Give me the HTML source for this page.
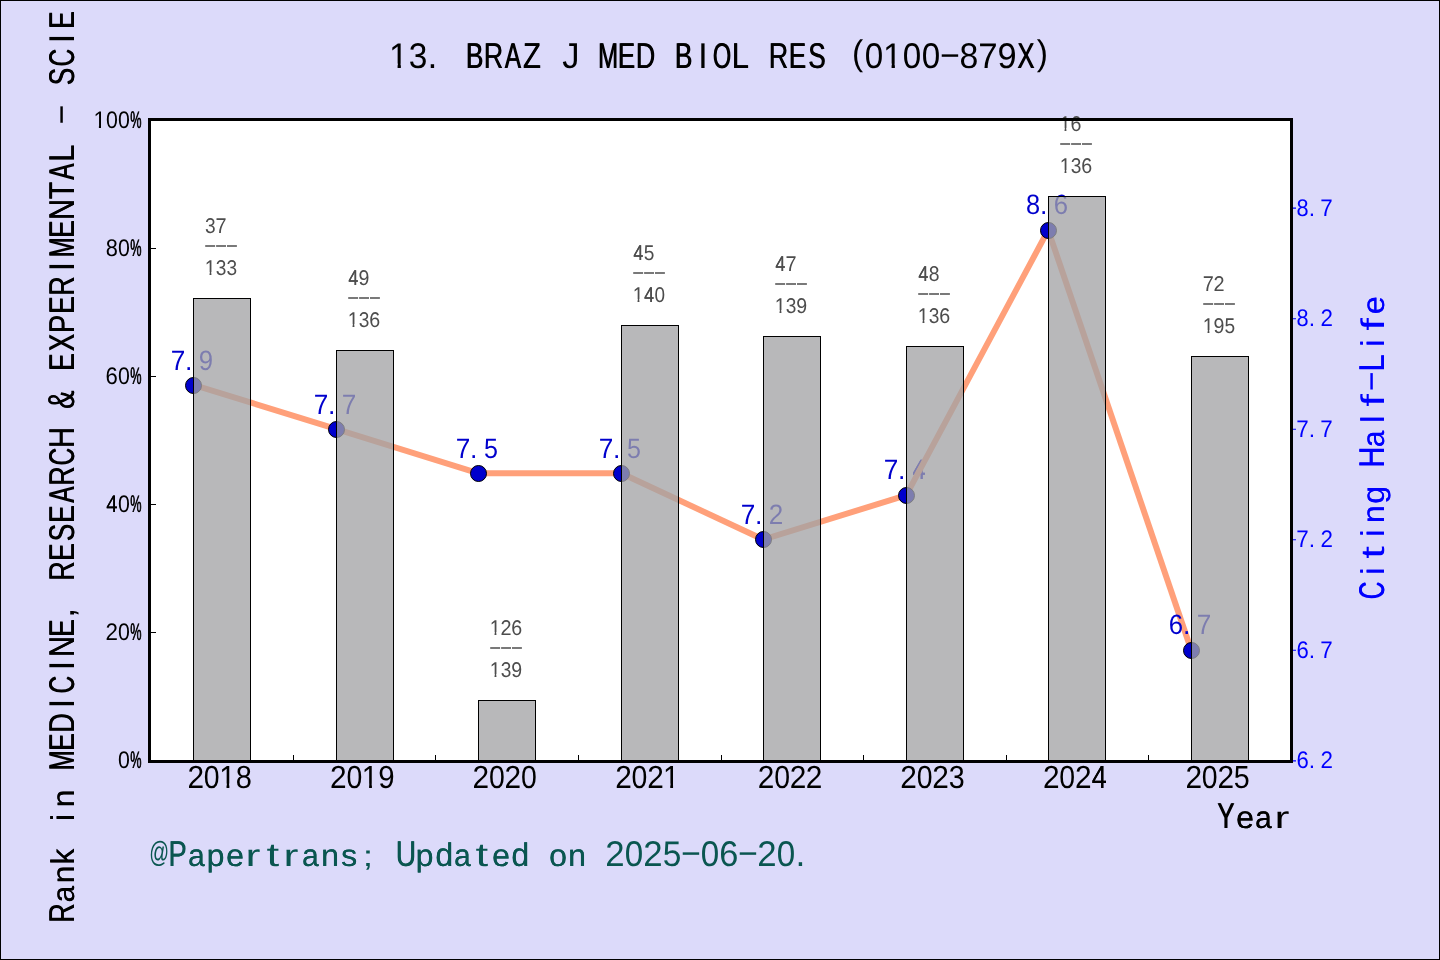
<!DOCTYPE html>
<html lang="en"><head><meta charset="utf-8"><title>BRAZ J MED BIOL RES</title>
<style>html,body{margin:0;padding:0;background:#DCDAFA;}body{width:1440px;height:960px;overflow:hidden;font-family:"Liberation Sans",sans-serif;}svg{display:block;will-change:transform;}</style></head>
<body>
<svg width="1440" height="960" viewBox="0 0 1440 960" font-family="'Liberation Sans', sans-serif" text-rendering="geometricPrecision">
<defs><clipPath id="one" clipPathUnits="objectBoundingBox"><rect x="0" y="0" width="1" height="0.69"/><rect x="0.445" y="0" width="0.172" height="1"/></clipPath></defs>
<rect x="0" y="0" width="1440" height="960" fill="#DCDAFA"/>
<rect x="0.5" y="0.5" width="1439" height="959" fill="none" stroke="#000" stroke-width="1"/>
<rect x="149.5" y="119.5" width="1142.0" height="642.0" fill="#fff"/>
<g id="v0" font-size="28" fill="#0000CD">
<text transform="translate(178 369.9) scale(0.935 1)" x="-7.8">7</text>
<text transform="translate(188.79 369.9) scale(0.95 0.95)" x="-3.89">.</text>
<text transform="translate(206 369.9) scale(0.92 1)" x="-7.78">9</text>
</g>
<path d="M193.2 384.8L336.2 429" fill="none" stroke="#FFA07A" stroke-width="6" stroke-linecap="square"/>
<g id="v1" font-size="28" fill="#0000CD">
<text transform="translate(321 413.75) scale(0.935 1)" x="-7.8">7</text>
<text transform="translate(331.79 413.75) scale(0.95 0.95)" x="-3.89">.</text>
<text transform="translate(349 413.75) scale(0.935 1)" x="-7.8">7</text>
</g>
<path d="M336.2 429L478.2 473.2" fill="none" stroke="#FFA07A" stroke-width="6" stroke-linecap="square"/>
<g id="v2" font-size="28" fill="#0000CD">
<text transform="translate(463 458.1) scale(0.935 1)" x="-7.8">7</text>
<text transform="translate(473.79 458.1) scale(0.95 0.95)" x="-3.89">.</text>
<text transform="translate(491 458.1) scale(0.896 1)" x="-7.76">5</text>
</g>
<path d="M478.2 473.2L621.2 473.2" fill="none" stroke="#FFA07A" stroke-width="6" stroke-linecap="square"/>
<g id="v3" font-size="28" fill="#0000CD">
<text transform="translate(606 457.7) scale(0.935 1)" x="-7.8">7</text>
<text transform="translate(616.79 457.7) scale(0.95 0.95)" x="-3.89">.</text>
<text transform="translate(634 457.7) scale(0.896 1)" x="-7.76">5</text>
</g>
<path d="M621.2 473.2L763.2 539.5" fill="none" stroke="#FFA07A" stroke-width="6" stroke-linecap="square"/>
<g id="v4" font-size="28" fill="#0000CD">
<text transform="translate(748 523.5) scale(0.935 1)" x="-7.8">7</text>
<text transform="translate(758.79 523.5) scale(0.95 0.95)" x="-3.89">.</text>
<text transform="translate(776 523.5) scale(0.933 1)" x="-7.79">2</text>
</g>
<path d="M763.2 539.5L906.2 495.3" fill="none" stroke="#FFA07A" stroke-width="6" stroke-linecap="square"/>
<g id="v5" font-size="28" fill="#0000CD">
<text transform="translate(891 479.4) scale(0.935 1)" x="-7.8">7</text>
<text transform="translate(901.79 479.4) scale(0.95 0.95)" x="-3.89">.</text>
<text id="g1" transform="translate(918.91 479.4) scale(0.843 1)" x="-7.7">4</text>
<use href="#g1" x="0.18"/>
</g>
<path d="M906.2 495.3L1048.2 230.1" fill="none" stroke="#FFA07A" stroke-width="6" stroke-linecap="square"/>
<g id="v6" font-size="28" fill="#0000CD">
<text transform="translate(1033 214.4) scale(0.906 1)" x="-7.79">8</text>
<text transform="translate(1043.79 214.4) scale(0.95 0.95)" x="-3.89">.</text>
<text transform="translate(1061 214.4) scale(0.921 1)" x="-7.88">6</text>
</g>
<path d="M1048.2 230.1L1191.2 650" fill="none" stroke="#FFA07A" stroke-width="6" stroke-linecap="square"/>
<g id="v7" font-size="28" fill="#0000CD">
<text transform="translate(1176 634.1) scale(0.921 1)" x="-7.88">6</text>
<text transform="translate(1186.79 634.1) scale(0.95 0.95)" x="-3.89">.</text>
<text transform="translate(1204 634.1) scale(0.935 1)" x="-7.8">7</text>
</g>
<circle cx="193.5" cy="385.5" r="8" fill="#0000CD" stroke="#000" stroke-width="1"/>
<circle cx="336.5" cy="429.5" r="8" fill="#0000CD" stroke="#000" stroke-width="1"/>
<circle cx="478.5" cy="473.5" r="8" fill="#0000CD" stroke="#000" stroke-width="1"/>
<circle cx="621.5" cy="473.5" r="8" fill="#0000CD" stroke="#000" stroke-width="1"/>
<circle cx="763.5" cy="539.5" r="8" fill="#0000CD" stroke="#000" stroke-width="1"/>
<circle cx="906.5" cy="495.5" r="8" fill="#0000CD" stroke="#000" stroke-width="1"/>
<circle cx="1048.5" cy="230.5" r="8" fill="#0000CD" stroke="#000" stroke-width="1"/>
<circle cx="1191.5" cy="650.5" r="8" fill="#0000CD" stroke="#000" stroke-width="1"/>
<rect x="193.5" y="298.5" width="57" height="463" fill="#A2A3A5" fill-opacity="0.77" stroke="#000" stroke-width="1"/>
<rect x="336.5" y="350.5" width="57" height="411" fill="#A2A3A5" fill-opacity="0.77" stroke="#000" stroke-width="1"/>
<rect x="478.5" y="700.5" width="57" height="61" fill="#A2A3A5" fill-opacity="0.77" stroke="#000" stroke-width="1"/>
<rect x="621.5" y="325.5" width="57" height="436" fill="#A2A3A5" fill-opacity="0.77" stroke="#000" stroke-width="1"/>
<rect x="763.5" y="336.5" width="57" height="425" fill="#A2A3A5" fill-opacity="0.77" stroke="#000" stroke-width="1"/>
<rect x="906.5" y="346.5" width="57" height="415" fill="#A2A3A5" fill-opacity="0.77" stroke="#000" stroke-width="1"/>
<rect x="1048.5" y="196.5" width="57" height="565" fill="#A2A3A5" fill-opacity="0.77" stroke="#000" stroke-width="1"/>
<rect x="1191.5" y="356.5" width="57" height="405" fill="#A2A3A5" fill-opacity="0.77" stroke="#000" stroke-width="1"/>
<g id="fa0" font-size="21.33" fill="#4d4d4d">
<text transform="translate(210.34 232.5) scale(0.896 1)" x="-5.87">3</text>
<text transform="translate(221 232.5) scale(0.935 1)" x="-5.94">7</text>
</g>
<path d="M205.2 245.9h9.9m1 0h9.9m1 0h9.9" stroke="#4d4d4d" stroke-width="1.5" fill="none"/>
<g id="fb0" font-size="21.33" fill="#4d4d4d">
<text transform="translate(208.95 274.5) scale(0.92 1)" x="-4.65" clip-path="url(#one)">1</text>
<text transform="translate(221 274.5) scale(0.896 1)" x="-5.87">3</text>
<text transform="translate(231.68 274.5) scale(0.896 1)" x="-5.87">3</text>
</g>
<g id="fa1" font-size="21.33" fill="#4d4d4d">
<text id="g2" transform="translate(353.27 284.5) scale(0.843 1)" x="-5.86">4</text>
<use href="#g2" x="0.14"/>
<text transform="translate(364 284.5) scale(0.92 1)" x="-5.93">9</text>
</g>
<path d="M348.2 297.9h9.9m1 0h9.9m1 0h9.9" stroke="#4d4d4d" stroke-width="1.5" fill="none"/>
<g id="fb1" font-size="21.33" fill="#4d4d4d">
<text transform="translate(351.95 326.5) scale(0.92 1)" x="-4.65" clip-path="url(#one)">1</text>
<text transform="translate(364 326.5) scale(0.896 1)" x="-5.87">3</text>
<text transform="translate(374.67 326.5) scale(0.921 1)" x="-6">6</text>
</g>
<g id="fa2" font-size="21.33" fill="#4d4d4d">
<text transform="translate(493.95 634.5) scale(0.92 1)" x="-4.65" clip-path="url(#one)">1</text>
<text transform="translate(506 634.5) scale(0.933 1)" x="-5.93">2</text>
<text transform="translate(516.67 634.5) scale(0.921 1)" x="-6">6</text>
</g>
<path d="M490.2 647.9h9.9m1 0h9.9m1 0h9.9" stroke="#4d4d4d" stroke-width="1.5" fill="none"/>
<g id="fb2" font-size="21.33" fill="#4d4d4d">
<text transform="translate(493.95 676.5) scale(0.92 1)" x="-4.65" clip-path="url(#one)">1</text>
<text transform="translate(506 676.5) scale(0.896 1)" x="-5.87">3</text>
<text transform="translate(516.67 676.5) scale(0.92 1)" x="-5.93">9</text>
</g>
<g id="fa3" font-size="21.33" fill="#4d4d4d">
<text id="g3" transform="translate(638.27 259.5) scale(0.843 1)" x="-5.86">4</text>
<use href="#g3" x="0.14"/>
<text transform="translate(649 259.5) scale(0.896 1)" x="-5.91">5</text>
</g>
<path d="M633.2 272.9h9.9m1 0h9.9m1 0h9.9" stroke="#4d4d4d" stroke-width="1.5" fill="none"/>
<g id="fb3" font-size="21.33" fill="#4d4d4d">
<text transform="translate(636.95 301.5) scale(0.92 1)" x="-4.65" clip-path="url(#one)">1</text>
<text id="g4" transform="translate(648.94 301.5) scale(0.843 1)" x="-5.86">4</text>
<use href="#g4" x="0.14"/>
<text transform="translate(659.68 301.5) scale(0.889 1)" x="-5.93">0</text>
</g>
<g id="fa4" font-size="21.33" fill="#4d4d4d">
<text id="g5" transform="translate(780.27 270.5) scale(0.843 1)" x="-5.86">4</text>
<use href="#g5" x="0.14"/>
<text transform="translate(791 270.5) scale(0.935 1)" x="-5.94">7</text>
</g>
<path d="M775.2 283.9h9.9m1 0h9.9m1 0h9.9" stroke="#4d4d4d" stroke-width="1.5" fill="none"/>
<g id="fb4" font-size="21.33" fill="#4d4d4d">
<text transform="translate(778.95 312.5) scale(0.92 1)" x="-4.65" clip-path="url(#one)">1</text>
<text transform="translate(791 312.5) scale(0.896 1)" x="-5.87">3</text>
<text transform="translate(801.68 312.5) scale(0.92 1)" x="-5.93">9</text>
</g>
<g id="fa5" font-size="21.33" fill="#4d4d4d">
<text id="g6" transform="translate(923.27 280.5) scale(0.843 1)" x="-5.86">4</text>
<use href="#g6" x="0.14"/>
<text transform="translate(934 280.5) scale(0.906 1)" x="-5.93">8</text>
</g>
<path d="M918.2 293.9h9.9m1 0h9.9m1 0h9.9" stroke="#4d4d4d" stroke-width="1.5" fill="none"/>
<g id="fb5" font-size="21.33" fill="#4d4d4d">
<text transform="translate(921.95 322.5) scale(0.92 1)" x="-4.65" clip-path="url(#one)">1</text>
<text transform="translate(934 322.5) scale(0.896 1)" x="-5.87">3</text>
<text transform="translate(944.68 322.5) scale(0.921 1)" x="-6">6</text>
</g>
<g id="fa6" font-size="21.33" fill="#4d4d4d">
<text transform="translate(1063.95 130.5) scale(0.92 1)" x="-4.65" clip-path="url(#one)">1</text>
<text transform="translate(1076.01 130.5) scale(0.921 1)" x="-6">6</text>
</g>
<path d="M1060.2 143.9h9.9m1 0h9.9m1 0h9.9" stroke="#4d4d4d" stroke-width="1.5" fill="none"/>
<g id="fb6" font-size="21.33" fill="#4d4d4d">
<text transform="translate(1063.95 172.5) scale(0.92 1)" x="-4.65" clip-path="url(#one)">1</text>
<text transform="translate(1076.01 172.5) scale(0.896 1)" x="-5.87">3</text>
<text transform="translate(1086.67 172.5) scale(0.921 1)" x="-6">6</text>
</g>
<g id="fa7" font-size="21.33" fill="#4d4d4d">
<text transform="translate(1208.34 290.5) scale(0.935 1)" x="-5.94">7</text>
<text transform="translate(1219.01 290.5) scale(0.933 1)" x="-5.93">2</text>
</g>
<path d="M1203.2 303.9h9.9m1 0h9.9m1 0h9.9" stroke="#4d4d4d" stroke-width="1.5" fill="none"/>
<g id="fb7" font-size="21.33" fill="#4d4d4d">
<text transform="translate(1206.95 332.5) scale(0.92 1)" x="-4.65" clip-path="url(#one)">1</text>
<text transform="translate(1219.01 332.5) scale(0.92 1)" x="-5.93">9</text>
<text transform="translate(1229.67 332.5) scale(0.896 1)" x="-5.91">5</text>
</g>
<rect x="149.5" y="119.5" width="1142.0" height="642.0" fill="none" stroke="#000" stroke-width="3"/>
<path d="M151 632.5H156M151 504.5H156M151 376.5H156M151 248.5H156M293.5 760V755M435.5 760V755M578.5 760V755M721.5 760V755M863.5 760V755M1006.5 760V755M1148.5 760V755" stroke="#000" stroke-width="1" fill="none"/>
<path d="M1293 760.8H1296M1293 650.27H1296M1293 539.75H1296M1293 429.22H1296M1293 318.7H1296M1293 208.18H1296" stroke="#0000FF" stroke-width="1.15" fill="none"/>
<g id="yl0" font-size="24" fill="#000">
<text transform="translate(123.8 767.9) scale(0.889 1)" x="-6.67">0</text>
<text id="g7" transform="translate(135.56 767.9) scale(0.526 1)" x="-10.67">%</text>
<use href="#g7" x="0.48"/>
</g>
<g id="yl1" font-size="24" fill="#000">
<text transform="translate(111.8 639.9) scale(0.933 1)" x="-6.67">2</text>
<text transform="translate(123.8 639.9) scale(0.889 1)" x="-6.67">0</text>
<text id="g8" transform="translate(135.56 639.9) scale(0.526 1)" x="-10.67">%</text>
<use href="#g8" x="0.48"/>
</g>
<g id="yl2" font-size="24" fill="#000">
<text id="g9" transform="translate(111.72 511.9) scale(0.843 1)" x="-6.6">4</text>
<use href="#g9" x="0.15"/>
<text transform="translate(123.8 511.9) scale(0.889 1)" x="-6.67">0</text>
<text id="g10" transform="translate(135.56 511.9) scale(0.526 1)" x="-10.67">%</text>
<use href="#g10" x="0.48"/>
</g>
<g id="yl3" font-size="24" fill="#000">
<text transform="translate(111.8 383.9) scale(0.921 1)" x="-6.76">6</text>
<text transform="translate(123.8 383.9) scale(0.889 1)" x="-6.67">0</text>
<text id="g11" transform="translate(135.56 383.9) scale(0.526 1)" x="-10.67">%</text>
<use href="#g11" x="0.48"/>
</g>
<g id="yl4" font-size="24" fill="#000">
<text transform="translate(111.8 255.9) scale(0.906 1)" x="-6.67">8</text>
<text transform="translate(123.8 255.9) scale(0.889 1)" x="-6.67">0</text>
<text id="g12" transform="translate(135.56 255.9) scale(0.526 1)" x="-10.67">%</text>
<use href="#g12" x="0.48"/>
</g>
<g id="yl5" font-size="24" fill="#000">
<text transform="translate(98.24 127.9) scale(0.92 1)" x="-5.23" clip-path="url(#one)">1</text>
<text transform="translate(111.8 127.9) scale(0.889 1)" x="-6.67">0</text>
<text transform="translate(123.8 127.9) scale(0.889 1)" x="-6.67">0</text>
<text id="g13" transform="translate(135.56 127.9) scale(0.526 1)" x="-10.67">%</text>
<use href="#g13" x="0.48"/>
</g>
<g id="yr0" font-size="24" fill="#0000FF">
<text transform="translate(1302.6 767.9) scale(0.921 1)" x="-6.76">6</text>
<text transform="translate(1311.85 767.9) scale(0.95 0.95)" x="-3.33">.</text>
<text transform="translate(1326.6 767.9) scale(0.933 1)" x="-6.67">2</text>
</g>
<g id="yr1" font-size="24" fill="#0000FF">
<text transform="translate(1302.6 657.98) scale(0.921 1)" x="-6.76">6</text>
<text transform="translate(1311.85 657.98) scale(0.95 0.95)" x="-3.33">.</text>
<text transform="translate(1326.6 657.98) scale(0.935 1)" x="-6.69">7</text>
</g>
<g id="yr2" font-size="24" fill="#0000FF">
<text transform="translate(1302.6 547.45) scale(0.935 1)" x="-6.69">7</text>
<text transform="translate(1311.85 547.45) scale(0.95 0.95)" x="-3.33">.</text>
<text transform="translate(1326.6 547.45) scale(0.933 1)" x="-6.67">2</text>
</g>
<g id="yr3" font-size="24" fill="#0000FF">
<text transform="translate(1302.6 436.92) scale(0.935 1)" x="-6.69">7</text>
<text transform="translate(1311.85 436.92) scale(0.95 0.95)" x="-3.33">.</text>
<text transform="translate(1326.6 436.92) scale(0.935 1)" x="-6.69">7</text>
</g>
<g id="yr4" font-size="24" fill="#0000FF">
<text transform="translate(1302.6 326.4) scale(0.906 1)" x="-6.67">8</text>
<text transform="translate(1311.85 326.4) scale(0.95 0.95)" x="-3.33">.</text>
<text transform="translate(1326.6 326.4) scale(0.933 1)" x="-6.67">2</text>
</g>
<g id="yr5" font-size="24" fill="#0000FF">
<text transform="translate(1302.6 215.88) scale(0.906 1)" x="-6.67">8</text>
<text transform="translate(1311.85 215.88) scale(0.95 0.95)" x="-3.33">.</text>
<text transform="translate(1326.6 215.88) scale(0.935 1)" x="-6.69">7</text>
</g>
<g id="xl0" font-size="32" fill="#000">
<text transform="translate(195.75 787.7) scale(0.933 1)" x="-8.9">2</text>
<text transform="translate(211.75 787.7) scale(0.889 1)" x="-8.9">0</text>
<text transform="translate(225.67 787.7) scale(0.92 1)" x="-6.98" clip-path="url(#one)">1</text>
<text transform="translate(243.75 787.7) scale(0.906 1)" x="-8.9">8</text>
</g>
<g id="xl1" font-size="32" fill="#000">
<text transform="translate(338.32 787.7) scale(0.933 1)" x="-8.9">2</text>
<text transform="translate(354.32 787.7) scale(0.889 1)" x="-8.9">0</text>
<text transform="translate(368.24 787.7) scale(0.92 1)" x="-6.98" clip-path="url(#one)">1</text>
<text transform="translate(386.32 787.7) scale(0.92 1)" x="-8.89">9</text>
</g>
<g id="xl2" font-size="32" fill="#000">
<text transform="translate(480.89 787.7) scale(0.933 1)" x="-8.9">2</text>
<text transform="translate(496.89 787.7) scale(0.889 1)" x="-8.9">0</text>
<text transform="translate(512.89 787.7) scale(0.933 1)" x="-8.9">2</text>
<text transform="translate(528.89 787.7) scale(0.889 1)" x="-8.9">0</text>
</g>
<g id="xl3" font-size="32" fill="#000">
<text transform="translate(623.46 787.7) scale(0.933 1)" x="-8.9">2</text>
<text transform="translate(639.46 787.7) scale(0.889 1)" x="-8.9">0</text>
<text transform="translate(655.46 787.7) scale(0.933 1)" x="-8.9">2</text>
<text transform="translate(669.38 787.7) scale(0.92 1)" x="-6.98" clip-path="url(#one)">1</text>
</g>
<g id="xl4" font-size="32" fill="#000">
<text transform="translate(766.04 787.7) scale(0.933 1)" x="-8.9">2</text>
<text transform="translate(782.04 787.7) scale(0.889 1)" x="-8.9">0</text>
<text transform="translate(798.04 787.7) scale(0.933 1)" x="-8.9">2</text>
<text transform="translate(814.04 787.7) scale(0.933 1)" x="-8.9">2</text>
</g>
<g id="xl5" font-size="32" fill="#000">
<text transform="translate(908.61 787.7) scale(0.933 1)" x="-8.9">2</text>
<text transform="translate(924.61 787.7) scale(0.889 1)" x="-8.9">0</text>
<text transform="translate(940.61 787.7) scale(0.933 1)" x="-8.9">2</text>
<text transform="translate(956.61 787.7) scale(0.896 1)" x="-8.8">3</text>
</g>
<g id="xl6" font-size="32" fill="#000">
<text transform="translate(1051.18 787.7) scale(0.933 1)" x="-8.9">2</text>
<text transform="translate(1067.18 787.7) scale(0.889 1)" x="-8.9">0</text>
<text transform="translate(1083.18 787.7) scale(0.933 1)" x="-8.9">2</text>
<text id="g14" transform="translate(1099.08 787.7) scale(0.843 1)" x="-8.8">4</text>
<use href="#g14" x="0.2"/>
</g>
<g id="xl7" font-size="32" fill="#000">
<text transform="translate(1193.75 787.7) scale(0.933 1)" x="-8.9">2</text>
<text transform="translate(1209.75 787.7) scale(0.889 1)" x="-8.9">0</text>
<text transform="translate(1225.75 787.7) scale(0.933 1)" x="-8.9">2</text>
<text transform="translate(1241.75 787.7) scale(0.896 1)" x="-8.87">5</text>
</g>
<g id="xlab" font-size="37.33" fill="#000">
<text id="g15" transform="translate(1225.68 828.1) scale(0.69 0.96)" x="-12.45">Y</text>
<use href="#g15" x="0.64"/>
<text id="g16" transform="translate(1244.9 828.1) scale(0.86 0.83)" x="-10.34">e</text>
<use href="#g16" x="0.19"/>
<text id="g17" transform="translate(1263.82 828.1) scale(0.8 0.83)" x="-11.17">a</text>
<use href="#g17" x="0.35"/>
<text transform="translate(1283 828.1) scale(1.2 0.83)" x="-7.15">r</text>
</g>
<g id="title" font-size="37.33" fill="#000">
<text transform="translate(396.57 68.4) scale(0.92 0.955)" x="-8.14" clip-path="url(#one)">1</text>
<text transform="translate(418 68.4) scale(0.896 0.955)" x="-10.27">3</text>
<text transform="translate(432.55 68.4) scale(0.95 0.95)" x="-5.19">.</text>
<text id="g18" transform="translate(474.7 68.4) scale(0.705 0.96)" x="-13">B</text>
<use href="#g18" x="0.61"/>
<text id="g19" transform="translate(493.72 68.4) scale(0.724 0.96)" x="-14.14">R</text>
<use href="#g19" x="0.55"/>
<text id="g20" transform="translate(512.63 68.4) scale(0.648 0.96)" x="-12.45">A</text>
<use href="#g20" x="0.75"/>
<text id="g21" transform="translate(531.8 68.4) scale(0.785 0.96)" x="-11.41">Z</text>
<use href="#g21" x="0.39"/>
<text transform="translate(570 68.4) scale(0.926 0.96)" x="-8.24">J</text>
<text id="g22" transform="translate(607.63 68.4) scale(0.643 0.96)" x="-15.55">M</text>
<use href="#g22" x="0.75"/>
<text id="g23" transform="translate(626.68 68.4) scale(0.692 0.96)" x="-13.18">E</text>
<use href="#g23" x="0.64"/>
<text id="g24" transform="translate(645.73 68.4) scale(0.726 0.96)" x="-14.12">D</text>
<use href="#g24" x="0.55"/>
<text id="g25" transform="translate(683.7 68.4) scale(0.705 0.96)" x="-13">B</text>
<use href="#g25" x="0.61"/>
<text transform="translate(703 68.4) scale(0.95 0.96)" x="-5.19">I</text>
<text id="g26" transform="translate(721.63 68.4) scale(0.63 0.96)" x="-14.51">O</text>
<use href="#g26" x="0.75"/>
<text id="g27" transform="translate(740.88 68.4) scale(0.839 0.96)" x="-11.29">L</text>
<use href="#g27" x="0.25"/>
<text id="g28" transform="translate(778.72 68.4) scale(0.724 0.96)" x="-14.14">R</text>
<use href="#g28" x="0.55"/>
<text id="g29" transform="translate(797.68 68.4) scale(0.692 0.96)" x="-13.18">E</text>
<use href="#g29" x="0.64"/>
<text id="g30" transform="translate(816.68 68.4) scale(0.695 0.96)" x="-12.44">S</text>
<use href="#g30" x="0.63"/>
<text transform="translate(858.55 64.67) scale(0.9 0.95)" x="-7.26">(</text>
<text transform="translate(874 68.4) scale(0.889 0.955)" x="-10.38">0</text>
<text transform="translate(890.57 68.4) scale(0.92 0.955)" x="-8.14" clip-path="url(#one)">1</text>
<text transform="translate(912 68.4) scale(0.889 0.955)" x="-10.38">0</text>
<text transform="translate(931 68.4) scale(0.889 0.955)" x="-10.38">0</text>
<text transform="translate(950 64.29) scale(1.802 0.85)" x="-6.22">-</text>
<text transform="translate(969 68.4) scale(0.906 0.955)" x="-10.38">8</text>
<text transform="translate(988 68.4) scale(0.935 0.955)" x="-10.4">7</text>
<text transform="translate(1007 68.4) scale(0.92 0.955)" x="-10.37">9</text>
<text id="g31" transform="translate(1025.68 68.4) scale(0.69 0.96)" x="-12.48">X</text>
<use href="#g31" x="0.65"/>
<text transform="translate(1041.45 64.67) scale(0.9 0.95)" x="-5.17">)</text>
</g>
<g id="foot" font-size="37.33" fill="#0A5650">
<text transform="translate(159 862.44) scale(0.523 0.79)" x="-18.8">@</text>
<text id="g32" transform="translate(177.73 865.8) scale(0.733 0.96)" x="-13">P</text>
<use href="#g32" x="0.53"/>
<text id="g33" transform="translate(196.82 865.8) scale(0.8 0.83)" x="-11.17">a</text>
<use href="#g33" x="0.35"/>
<text id="g34" transform="translate(215.9 865.8) scale(0.86 0.83)" x="-10.8">p</text>
<use href="#g34" x="0.19"/>
<text id="g35" transform="translate(234.9 865.8) scale(0.86 0.83)" x="-10.34">e</text>
<use href="#g35" x="0.19"/>
<text transform="translate(254 865.8) scale(1.2 0.83)" x="-7.15">r</text>
<text transform="translate(273 865.8) scale(1.22 0.88)" x="-5.33">t</text>
<text transform="translate(292 865.8) scale(1.2 0.83)" x="-7.15">r</text>
<text id="g36" transform="translate(310.82 865.8) scale(0.8 0.83)" x="-11.17">a</text>
<use href="#g36" x="0.35"/>
<text id="g37" transform="translate(329.9 865.8) scale(0.86 0.83)" x="-10.41">n</text>
<use href="#g37" x="0.19"/>
<text id="g38" transform="translate(348.9 865.8) scale(0.86 0.83)" x="-9.18">s</text>
<use href="#g38" x="0.19"/>
<text transform="translate(368 865.8) scale(1 0.78)" x="-5.19">;</text>
<text id="g39" transform="translate(405.77 865.8) scale(0.757 0.96)" x="-13.48">U</text>
<use href="#g39" x="0.47"/>
<text id="g40" transform="translate(424.9 865.8) scale(0.86 0.83)" x="-10.8">p</text>
<use href="#g40" x="0.19"/>
<text id="g41" transform="translate(443.9 865.8) scale(0.86 0.88)" x="-9.96">d</text>
<use href="#g41" x="0.19"/>
<text id="g42" transform="translate(462.82 865.8) scale(0.8 0.83)" x="-11.17">a</text>
<use href="#g42" x="0.35"/>
<text transform="translate(482 865.8) scale(1.22 0.88)" x="-5.33">t</text>
<text id="g43" transform="translate(500.9 865.8) scale(0.86 0.83)" x="-10.34">e</text>
<use href="#g43" x="0.19"/>
<text id="g44" transform="translate(519.9 865.8) scale(0.86 0.88)" x="-9.96">d</text>
<use href="#g44" x="0.19"/>
<text id="g45" transform="translate(557.9 865.8) scale(0.86 0.83)" x="-10.38">o</text>
<use href="#g45" x="0.19"/>
<text id="g46" transform="translate(576.9 865.8) scale(0.86 0.83)" x="-10.41">n</text>
<use href="#g46" x="0.19"/>
<text transform="translate(615 865.8) scale(0.933 0.955)" x="-10.38">2</text>
<text transform="translate(634 865.8) scale(0.889 0.955)" x="-10.38">0</text>
<text transform="translate(653 865.8) scale(0.933 0.955)" x="-10.38">2</text>
<text transform="translate(672 865.8) scale(0.896 0.955)" x="-10.34">5</text>
<text transform="translate(691 861.69) scale(1.802 0.85)" x="-6.22">-</text>
<text transform="translate(710 865.8) scale(0.889 0.955)" x="-10.38">0</text>
<text transform="translate(729 865.8) scale(0.921 0.955)" x="-10.51">6</text>
<text transform="translate(748 861.69) scale(1.802 0.85)" x="-6.22">-</text>
<text transform="translate(767 865.8) scale(0.933 0.955)" x="-10.38">2</text>
<text transform="translate(786 865.8) scale(0.889 0.955)" x="-10.38">0</text>
<text transform="translate(800.55 865.8) scale(0.95 0.95)" x="-5.19">.</text>
</g>
<g id="ylab" font-size="37.33" fill="#000" transform="rotate(-90 73.7 922)">
<text id="g47" transform="translate(82.92 922) scale(0.724 0.96)" x="-14.14">R</text>
<use href="#g47" x="0.55"/>
<text id="g48" transform="translate(102.02 922) scale(0.8 0.83)" x="-11.17">a</text>
<use href="#g48" x="0.35"/>
<text id="g49" transform="translate(121.1 922) scale(0.86 0.83)" x="-10.41">n</text>
<use href="#g49" x="0.19"/>
<text id="g50" transform="translate(140.1 922) scale(0.86 0.88)" x="-10.62">k</text>
<use href="#g50" x="0.19"/>
<text id="g51" transform="translate(178.1 922) scale(0.86 0.88)" x="-4.14">i</text>
<use href="#g51" x="0.19"/>
<text id="g52" transform="translate(197.1 922) scale(0.86 0.83)" x="-10.41">n</text>
<use href="#g52" x="0.19"/>
<text id="g53" transform="translate(234.83 922) scale(0.643 0.96)" x="-15.55">M</text>
<use href="#g53" x="0.75"/>
<text id="g54" transform="translate(253.88 922) scale(0.692 0.96)" x="-13.18">E</text>
<use href="#g54" x="0.64"/>
<text id="g55" transform="translate(272.93 922) scale(0.726 0.96)" x="-14.12">D</text>
<use href="#g55" x="0.55"/>
<text transform="translate(292.2 922) scale(0.95 0.96)" x="-5.19">I</text>
<text id="g56" transform="translate(310.83 922) scale(0.647 0.96)" x="-13.72">C</text>
<use href="#g56" x="0.75"/>
<text transform="translate(330.2 922) scale(0.95 0.96)" x="-5.19">I</text>
<text id="g57" transform="translate(348.98 922) scale(0.77 0.96)" x="-13.49">N</text>
<use href="#g57" x="0.43"/>
<text id="g58" transform="translate(367.88 922) scale(0.692 0.96)" x="-13.18">E</text>
<use href="#g58" x="0.64"/>
<text transform="translate(382.8 922) scale(0.95 0.95)" x="-5.19">,</text>
<text id="g59" transform="translate(424.92 922) scale(0.724 0.96)" x="-14.14">R</text>
<use href="#g59" x="0.55"/>
<text id="g60" transform="translate(443.88 922) scale(0.692 0.96)" x="-13.18">E</text>
<use href="#g60" x="0.64"/>
<text id="g61" transform="translate(462.88 922) scale(0.695 0.96)" x="-12.44">S</text>
<use href="#g61" x="0.63"/>
<text id="g62" transform="translate(481.88 922) scale(0.692 0.96)" x="-13.18">E</text>
<use href="#g62" x="0.64"/>
<text id="g63" transform="translate(500.83 922) scale(0.648 0.96)" x="-12.45">A</text>
<use href="#g63" x="0.75"/>
<text id="g64" transform="translate(519.92 922) scale(0.724 0.96)" x="-14.14">R</text>
<use href="#g64" x="0.55"/>
<text id="g65" transform="translate(538.83 922) scale(0.647 0.96)" x="-13.72">C</text>
<use href="#g65" x="0.75"/>
<text id="g66" transform="translate(557.98 922) scale(0.77 0.96)" x="-13.49">H</text>
<use href="#g66" x="0.43"/>
<text id="g67" transform="translate(595.93 922) scale(0.73 1)" x="-12.81">&amp;</text>
<use href="#g67" x="0.54"/>
<text id="g68" transform="translate(633.88 922) scale(0.692 0.96)" x="-13.18">E</text>
<use href="#g68" x="0.64"/>
<text id="g69" transform="translate(652.88 922) scale(0.69 0.96)" x="-12.48">X</text>
<use href="#g69" x="0.65"/>
<text id="g70" transform="translate(671.93 922) scale(0.733 0.96)" x="-13">P</text>
<use href="#g70" x="0.53"/>
<text id="g71" transform="translate(690.88 922) scale(0.692 0.96)" x="-13.18">E</text>
<use href="#g71" x="0.64"/>
<text id="g72" transform="translate(709.92 922) scale(0.724 0.96)" x="-14.14">R</text>
<use href="#g72" x="0.55"/>
<text transform="translate(729.2 922) scale(0.95 0.96)" x="-5.19">I</text>
<text id="g73" transform="translate(747.83 922) scale(0.643 0.96)" x="-15.55">M</text>
<use href="#g73" x="0.75"/>
<text id="g74" transform="translate(766.88 922) scale(0.692 0.96)" x="-13.18">E</text>
<use href="#g74" x="0.64"/>
<text id="g75" transform="translate(785.98 922) scale(0.77 0.96)" x="-13.49">N</text>
<use href="#g75" x="0.43"/>
<text id="g76" transform="translate(804.97 922) scale(0.76 0.96)" x="-11.39">T</text>
<use href="#g76" x="0.46"/>
<text id="g77" transform="translate(823.83 922) scale(0.648 0.96)" x="-12.45">A</text>
<use href="#g77" x="0.75"/>
<text id="g78" transform="translate(843.08 922) scale(0.839 0.96)" x="-11.29">L</text>
<use href="#g78" x="0.25"/>
<text transform="translate(881.2 917.89) scale(1.802 0.85)" x="-6.22">-</text>
<text id="g79" transform="translate(918.88 922) scale(0.695 0.96)" x="-12.44">S</text>
<use href="#g79" x="0.63"/>
<text id="g80" transform="translate(937.83 922) scale(0.647 0.96)" x="-13.72">C</text>
<use href="#g80" x="0.75"/>
<text transform="translate(957.2 922) scale(0.95 0.96)" x="-5.19">I</text>
<text id="g81" transform="translate(975.88 922) scale(0.692 0.96)" x="-13.18">E</text>
<use href="#g81" x="0.64"/>
</g>
<g id="y2lab" font-size="37.33" fill="#0000FF" transform="rotate(-90 1384.4 599.7)">
<text id="g82" transform="translate(1393.53 599.7) scale(0.647 0.96)" x="-13.72">C</text>
<use href="#g82" x="0.75"/>
<text id="g83" transform="translate(1412.8 599.7) scale(0.86 0.88)" x="-4.14">i</text>
<use href="#g83" x="0.19"/>
<text transform="translate(1431.9 599.7) scale(1.22 0.88)" x="-5.33">t</text>
<text id="g84" transform="translate(1450.8 599.7) scale(0.86 0.88)" x="-4.14">i</text>
<use href="#g84" x="0.19"/>
<text id="g85" transform="translate(1469.8 599.7) scale(0.86 0.83)" x="-10.41">n</text>
<use href="#g85" x="0.19"/>
<text id="g86" transform="translate(1488.8 599.7) scale(0.86 0.83)" x="-9.96">g</text>
<use href="#g86" x="0.19"/>
<text id="g87" transform="translate(1526.68 599.7) scale(0.77 0.96)" x="-13.49">H</text>
<use href="#g87" x="0.43"/>
<text id="g88" transform="translate(1545.72 599.7) scale(0.8 0.83)" x="-11.17">a</text>
<use href="#g88" x="0.35"/>
<text id="g89" transform="translate(1564.8 599.7) scale(0.86 0.88)" x="-4.16">l</text>
<use href="#g89" x="0.19"/>
<text transform="translate(1583.9 599.7) scale(1.22 0.88)" x="-5.48">f</text>
<text transform="translate(1602.9 595.59) scale(1.802 0.85)" x="-6.22">-</text>
<text id="g90" transform="translate(1621.78 599.7) scale(0.839 0.96)" x="-11.29">L</text>
<use href="#g90" x="0.25"/>
<text id="g91" transform="translate(1640.8 599.7) scale(0.86 0.88)" x="-4.14">i</text>
<use href="#g91" x="0.19"/>
<text transform="translate(1659.9 599.7) scale(1.22 0.88)" x="-5.48">f</text>
<text id="g92" transform="translate(1678.8 599.7) scale(0.86 0.83)" x="-10.34">e</text>
<use href="#g92" x="0.19"/>
</g>
</svg>
</body></html>
